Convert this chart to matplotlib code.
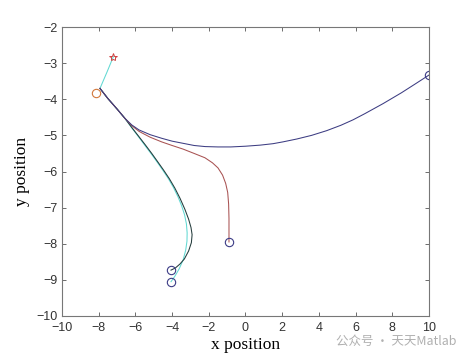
import matplotlib
matplotlib.use("Agg")
import matplotlib.pyplot as plt

# ---- data ----
navy_x = [-7.93, -7.5, -7.0, -6.57, -6.2, -5.8, -5.2, -4.57, -4.0, -3.4, -2.8, -2.2, -1.5, -0.8, 0.0, 0.8, 1.5, 2.04, 2.8, 3.6, 4.42, 5.2, 5.86, 6.5, 7.5, 8.5, 9.3, 10.0]
navy_y = [-3.70, -3.98, -4.27, -4.53, -4.71, -4.85, -4.98, -5.08, -5.16, -5.22, -5.28, -5.31, -5.32, -5.32, -5.30, -5.27, -5.23, -5.18, -5.10, -5.00, -4.87, -4.72, -4.57, -4.40, -4.12, -3.82, -3.56, -3.33]

red_x = [-7.93, -7.5, -7.0, -6.57, -6.2, -5.8, -5.2, -4.57, -4.0, -3.4, -2.8, -2.21, -1.8, -1.5, -1.25, -1.08, -0.97, -0.92, -0.90, -0.90, -0.90]
red_y = [-3.70, -3.98, -4.27, -4.53, -4.73, -4.89, -5.05, -5.18, -5.28, -5.38, -5.50, -5.62, -5.76, -5.90, -6.10, -6.33, -6.58, -6.90, -7.30, -7.70, -7.95]

black_x = [-7.93, -7.5, -7.0, -6.57, -6.2, -5.8, -5.45, -5.11, -4.8, -4.48, -4.15, -3.85, -3.57, -3.3, -3.1, -2.97, -2.91, -2.95, -3.10, -3.33, -3.57, -3.82, -4.06]
black_y = [-3.70, -3.98, -4.27, -4.53, -4.78, -5.04, -5.27, -5.50, -5.72, -5.95, -6.20, -6.46, -6.74, -7.05, -7.32, -7.55, -7.75, -7.97, -8.20, -8.42, -8.56, -8.67, -8.73]

cyan_x = [-7.20, -7.55, -7.93, -7.5, -7.0, -6.57, -6.2, -5.8, -5.45, -5.11, -4.8, -4.5, -4.2, -3.93, -3.68, -3.48, -3.32, -3.22, -3.18, -3.19, -3.26, -3.40, -3.62, -3.85, -4.06]
cyan_y = [-2.82, -3.25, -3.70, -3.98, -4.27, -4.53, -4.79, -5.06, -5.30, -5.53, -5.75, -5.97, -6.20, -6.44, -6.70, -6.95, -7.20, -7.45, -7.70, -7.93, -8.18, -8.45, -8.70, -8.90, -9.05]

goal_x = [10.0, -0.90, -4.06, -4.06]
goal_y = [-3.33, -7.95, -8.73, -9.05]
start_x, start_y = -8.17, -3.84
star_x, star_y = -7.20, -2.82

xticks = list(range(-10, 11, 2))
yticks = list(range(-10, -1, 1))

fig = plt.figure(figsize=(4.74, 3.55), dpi=100)
ax = fig.add_axes([62/474, 1-316/355, (429-62)/474, (316-27)/355])

lw = 0.75
ax.plot(cyan_x, cyan_y, color="#62d9d3", lw=lw)
ax.plot(black_x, black_y, color="#243c3c", lw=lw)
ax.plot(red_x, red_y, color="#a85252", lw=lw)
ax.plot(navy_x, navy_y, color="#3c3c82", lw=lw)

ax.plot(goal_x, goal_y, linestyle="none", marker="o", markersize=6,
        markerfacecolor="none", markeredgecolor="#3c3c86", markeredgewidth=0.8)
ax.plot([start_x], [start_y], linestyle="none", marker="o", markersize=6,
        markerfacecolor="none", markeredgecolor="#d2783c", markeredgewidth=0.8)
ax.plot([star_x], [star_y], linestyle="none", marker="*", markersize=6,
        markerfacecolor="none", markeredgecolor="#d04040", markeredgewidth=0.7)

ax.set_xlim(-10, 10)
ax.set_ylim(-10, -2)
ax.set_xticks(xticks)
ax.set_yticks(yticks)
ax.tick_params(direction="in", top=True, right=True, length=3, width=0.6,
               colors="#555555", labelsize=9)
ax.tick_params(axis="x", pad=4.5)
for lab in ax.get_xticklabels() + ax.get_yticklabels():
    lab.set_fontfamily("Liberation Sans")
    lab.set_color("#333333")
for s in ax.spines.values():
    s.set_color("#777777")
    s.set_linewidth(0.8)

ax.set_xlabel("x position", fontfamily="Liberation Serif", fontsize=12.5, labelpad=2)
ax.set_ylabel("y position", fontfamily="Liberation Serif", fontsize=12.5, labelpad=4)

fig.text(336/474, 1-341/355, "公众号 · 天天Matlab", fontsize=9, color="#b0b0b0",
         family=["Noto Sans CJK SC", "DejaVu Sans"], va="center", ha="left")

fig.savefig("out.png", dpi=100)
